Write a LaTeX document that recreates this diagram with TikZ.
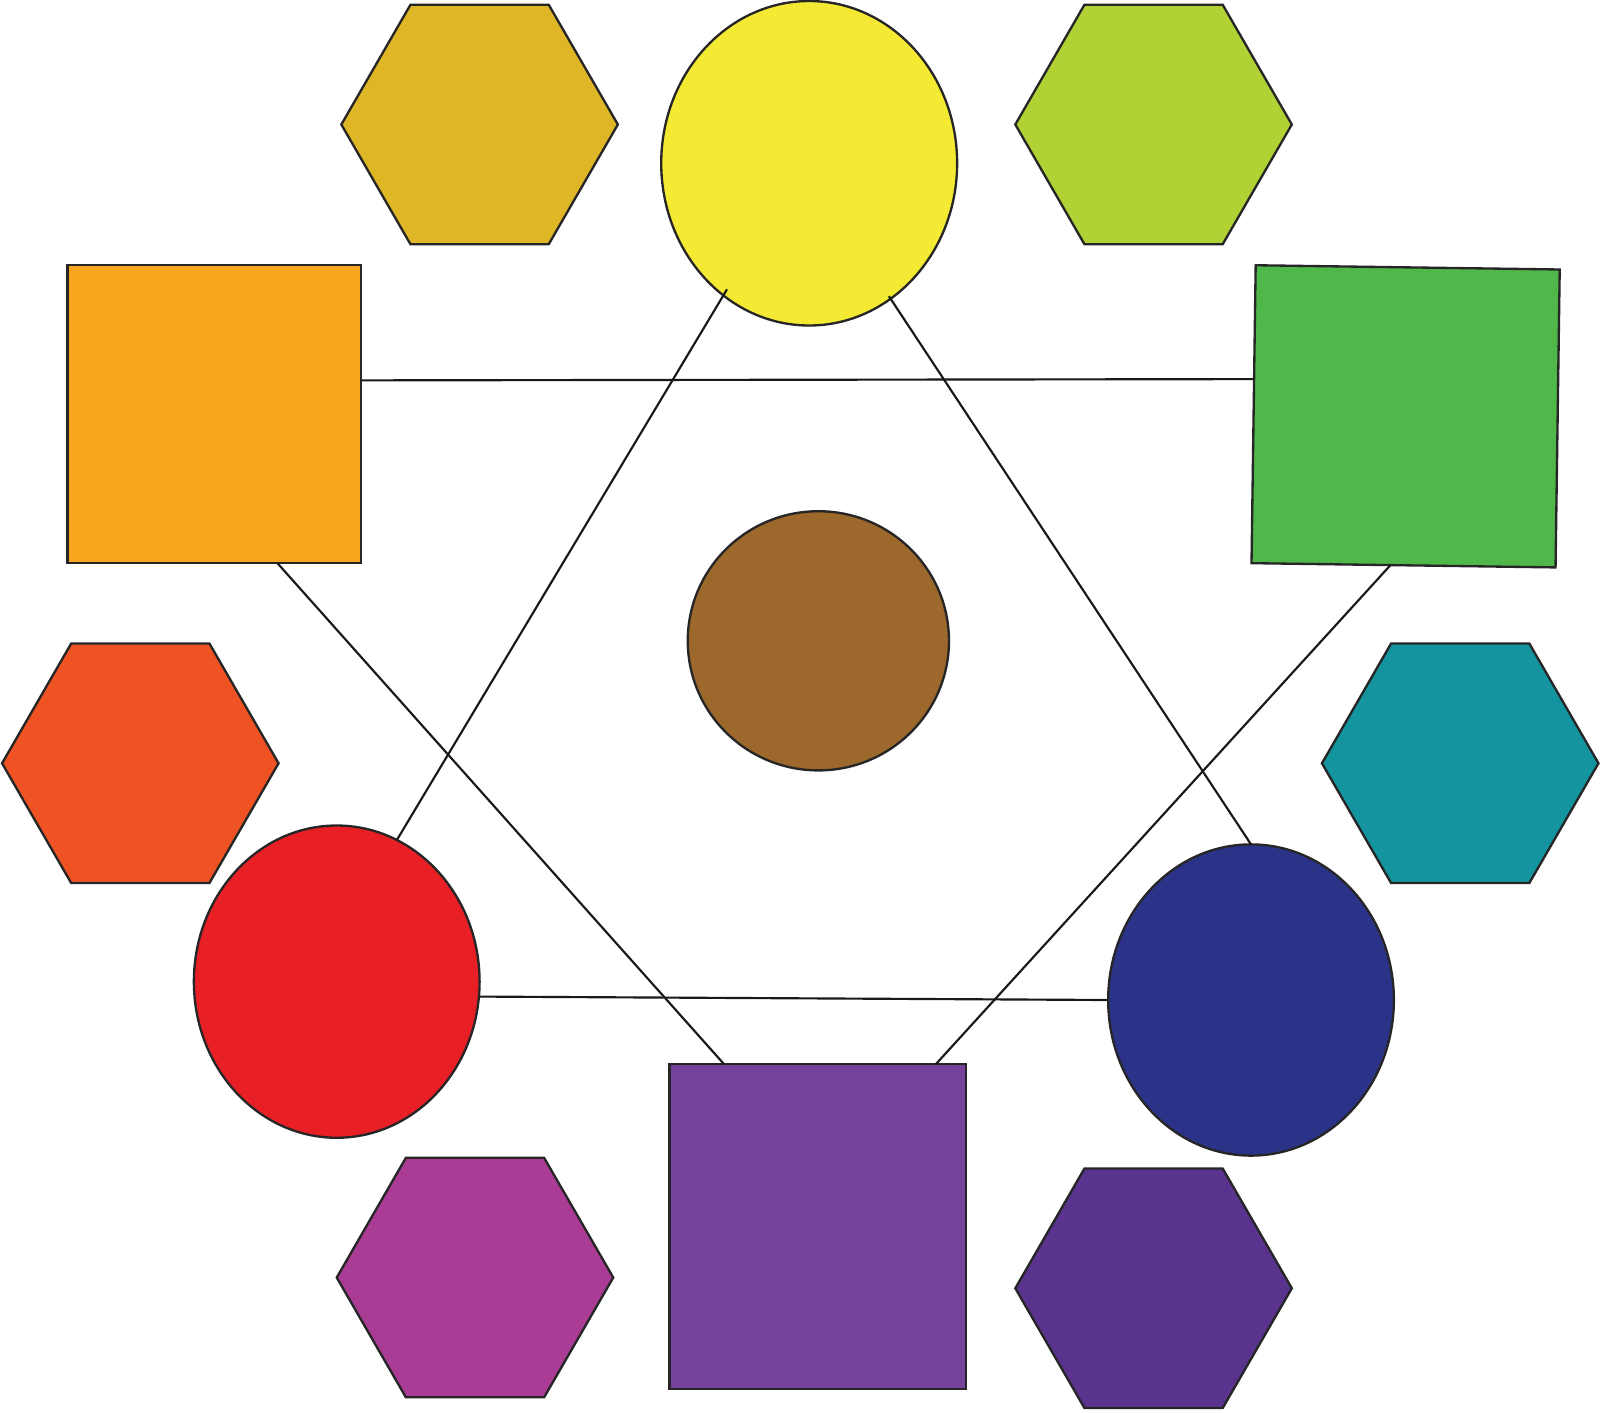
\documentclass[tikz,border=0pt]{standalone}
\usetikzlibrary{shapes.geometric}
\definecolor{cyellow}{HTML}{F5EA33}
\definecolor{cgold}{HTML}{DFB726}
\definecolor{clime}{HTML}{B0D235}
\definecolor{corange}{HTML}{F7A51D}
\definecolor{cgreen}{HTML}{50B74B}
\definecolor{cbrown}{HTML}{9C682B}
\definecolor{corred}{HTML}{EF5323}
\definecolor{cteal}{HTML}{13949F}
\definecolor{cred}{HTML}{E91F26}
\definecolor{cblue}{HTML}{2B3388}
\definecolor{cpurple}{HTML}{764198}
\definecolor{cmagenta}{HTML}{AB3C96}
\definecolor{cviolet}{HTML}{5A338F}
\tikzset{
  shp/.style={draw=black!85, line width=0.65pt, inner sep=0pt, outer sep=0pt},
  hexa/.style={shp, regular polygon, regular polygon sides=6, minimum size=27.1mm},
  sq/.style={shp, rectangle},
  oval/.style={shp, ellipse},
  link/.style={draw=black!90, line width=0.6pt}
}
\begin{document}
\begin{tikzpicture}[x=0.1mm, y=-0.1mm]
\useasboundingbox (0,0) rectangle (1568,1384);
% hexagons
\node[hexa, fill=cgold] (hgold) at (470,122) {};
\node[hexa, fill=clime] (hlime) at (1130.5,122) {};
\node[hexa, fill=corred] (horred) at (137.5,748) {};
\node[hexa, fill=cteal] (hteal) at (1431,748) {};
\node[hexa, fill=cmagenta] (hmag) at (465.5,1252) {};
\node[hexa, fill=cviolet] (hviol) at (1130.5,1262.5) {};
% squares
\node[sq, fill=corange, minimum width=28.8mm, minimum height=29.2mm] (sorange) at (210,406) {};
\node[sq, fill=cgreen, minimum width=29.8mm, minimum height=29.2mm, rotate=-0.8] (sgreen) at (1377.5,408) {};
\node[sq, fill=cpurple, minimum width=29.1mm, minimum height=31.8mm] (spurple) at (801.5,1202) {};
% circles
\node[oval, fill=cyellow, minimum width=29.0mm, minimum height=31.8mm] (cyel) at (793,160) {};
\node[oval, fill=cbrown, minimum width=25.6mm, minimum height=25.4mm] (cbr) at (802,628) {};
\node[oval, fill=cred, minimum width=28.0mm, minimum height=30.6mm] (cr) at (330,962) {};
\node[oval, fill=cblue, minimum width=28.0mm, minimum height=30.5mm] (cb) at (1226,980) {};
% connectors
\draw[link] (sorange.13.3) -- (sgreen.167.2);
\draw[link, shorten <=-0.7mm] (cyel.237.7) -- (cr.67.5);
\draw[link, shorten <=-0.3mm] (cyel.301) -- (cb.90.8);
\draw[link] (sorange.293.7) -- (spurple.120.2);
\draw[link] (sgreen.265.9) -- (spurple.54);
\draw[link] (cr.354.7) -- (cb.180);
\end{tikzpicture}
\end{document}
